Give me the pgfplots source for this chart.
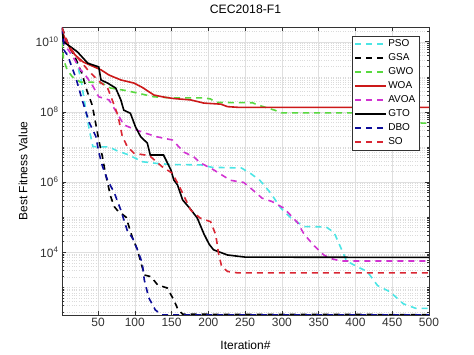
\documentclass[border=0pt]{standalone}
\usepackage{pgfplots}
\pgfplotsset{compat=1.18}
\usepackage{fontspec}
\setmainfont{Liberation Sans}
\definecolor{psoc}{rgb}{0.30,0.90,0.90}
\definecolor{gwoc}{rgb}{0.35,0.85,0.25}
\definecolor{woac}{rgb}{0.80,0.10,0.10}
\definecolor{avoac}{rgb}{0.82,0.20,0.82}
\definecolor{dboc}{rgb}{0.05,0.05,0.60}
\definecolor{soc}{rgb}{0.85,0.15,0.20}
\begin{document}
\begin{tikzpicture}
\begin{axis}[
  scale only axis, width=367pt, height=288pt,
  xmin=1, xmax=500, ymode=log, ymin=162, ymax=2.63e10,
  xtick={50,100,...,500},
  ytick={1e4,1e6,1e8,1e10},
  yticklabels={10\textsuperscript{4},10\textsuperscript{6},10\textsuperscript{8},10\textsuperscript{10}},
  minor ytick={2e2,3e2,4e2,5e2,6e2,7e2,8e2,9e2,1e3,2e3,3e3,4e3,5e3,6e3,7e3,8e3,9e3,
    2e4,3e4,4e4,5e4,6e4,7e4,8e4,9e4,1e5,2e5,3e5,4e5,5e5,6e5,7e5,8e5,9e5,
    2e6,3e6,4e6,5e6,6e6,7e6,8e6,9e6,1e7,2e7,3e7,4e7,5e7,6e7,7e7,8e7,9e7,
    2e8,3e8,4e8,5e8,6e8,7e8,8e8,9e8,1e9,2e9,3e9,4e9,5e9,6e9,7e9,8e9,9e9,2e10},
  /pgf/number format/assume math mode=true,
  tick label style={font=\fontsize{12}{14}\selectfont, text=black!80},
  xmajorgrids, ymajorgrids, yminorgrids,
  major grid style={gray!25, line width=0.4pt},
  minor grid style={gray!28, dotted, line width=0.4pt},
  tick style={black!80, line width=0.5pt},
  major tick length=4pt, minor tick length=2pt,
  axis line style={black!80, line width=0.5pt},
  title={CEC2018-F1},
  title style={at={(axis description cs:0.5,1.042)}, anchor=center, font=\fontsize{12.2}{14}\selectfont},
  xlabel={Iteration\#},
  xlabel style={at={(axis description cs:0.5,-0.104)}, anchor=center, font=\fontsize{12}{14}\selectfont},
  ylabel={Best Fitness Value},
  ylabel style={at={(axis description cs:-0.106,0.5)}, anchor=center, font=\fontsize{12}{14}\selectfont},
  legend cell align=left,
  legend style={at={(axis description cs:0.973,0.969)}, anchor=north east,
    draw=black!80, line width=0.5pt, fill=white, font=\fontsize{10}{11}\selectfont,
    row sep=0pt, inner xsep=2pt, inner ysep=1pt,
    nodes={inner ysep=2.4pt, inner xsep=1.5pt, text height=7.3pt, text depth=1.9pt}},
  legend image code/.code={\draw[#1] (0pt,0pt) -- (31pt,0pt);},
  every axis plot/.append style={line width=1.6pt},
]
\addplot[psoc, dash pattern=on 6pt off 5pt] coordinates {
(1,2.51e10)(8,1e10)(15,5.01e9)(22,2.24e9)(27,7.94e8)(33,1.26e8)(38,3.16e7)(43,1.02e7)(65,1e7)(75,7.94e6)(92,5.89e6)(110,3.80e6)(130,3.39e6)(150,3.16e6)(190,3.09e6)(205,2.63e6)(245,2.51e6)(257,1.78e6)(270,1.12e6)(285,4.79e5)(298,1.86e5)(312,9.55e4)(330,5.37e4)(360,5.25e4)(371,3.63e4)(380,1.35e4)(388,5.62e3)(402,3.89e3)(416,2.82e3)(430,1.12e3)(447,741)(465,339)(482,251)(500,251)};
\addlegendentry{PSO}
\addplot[black, dash pattern=on 6pt off 5pt] coordinates {
(1,2.51e10)(10,7.94e9)(20,3.16e9)(28,1.26e9)(35,3.98e8)(42,1.58e8)(47,4.47e7)(51,1.58e7)(56,5.25e6)(60,1.78e6)(67,3.98e5)(72,2.0e5)(76,1.58e5)(88,1e5)(97,2.51e4)(103,1.26e4)(108,5.37e3)(113,2.24e3)(122,2.0e3)(131,1.17e3)(144,955)(153,437)(158,251)(165,170)(500,166)};
\addlegendentry{GSA}
\addplot[gwoc, dash pattern=on 6pt off 5pt] coordinates {
(1,1e10)(3,3.16e9)(8,1.58e9)(15,1e9)(26,7.08e8)(40,7.08e8)(55,6.61e8)(67,4.79e8)(90,3.98e8)(126,2.69e8)(150,2.51e8)(193,2.51e8)(203,2.34e8)(210,1.86e8)(260,1.82e8)(267,1.58e8)(290,1.12e8)(300,9.33e7)(470,9.33e7)(480,5.62e7)(490,4.79e7)(500,4.79e7)};
\addlegendentry{GWO}
\addplot[woac, solid] coordinates {
(1,2.0e10)(5,1.26e10)(13,5.75e9)(20,3.98e9)(30,2.63e9)(45,1.91e9)(54,1.58e9)(65,1.12e9)(81,8.13e8)(99,6.61e8)(110,5.01e8)(126,3.02e8)(140,2.63e8)(153,2.40e8)(176,2.19e8)(194,1.78e8)(217,1.66e8)(226,1.41e8)(240,1.35e8)(500,1.35e8)};
\addlegendentry{WOA}
\addplot[avoac, dash pattern=on 6pt off 5pt] coordinates {
(1,2.51e10)(5,7.94e9)(15,3.98e9)(26,1.58e9)(31,1.26e9)(42,5.89e8)(51,2.69e8)(65,2.19e8)(76,9.12e7)(85,4.27e7)(100,3.16e7)(115,2.45e7)(130,1.95e7)(151,1.58e7)(167,7.08e6)(180,5.25e6)(189,3.55e6)(207,2.24e6)(230,1.12e6)(248,9.77e5)(260,6.03e5)(273,3.47e5)(287,2.75e5)(303,1.78e5)(312,1.12e5)(321,7.08e4)(330,3.31e4)(343,1.58e4)(357,8.32e3)(366,6.61e3)(380,5.62e3)(500,5.62e3)};
\addlegendentry{AVOA}
\addplot[black, solid] coordinates {
(1,2.51e10)(3,1e10)(13,7.08e9)(22,5.13e9)(36,2.45e9)(51,1.91e9)(54,8.13e8)(63,6.61e8)(74,4.79e8)(81,2.19e8)(85,1.12e8)(94,9.12e7)(101,3.72e7)(108,1.95e7)(117,1.29e7)(121,5.89e6)(139,5.89e6)(149,2.24e6)(153,1.15e6)(158,8.32e5)(165,3.09e5)(176,1.66e5)(185,9.33e4)(194,3.31e4)(201,1.70e4)(207,1.17e4)(226,8.32e3)(250,7.24e3)(500,7.08e3)};
\addlegendentry{GTO}
\addplot[dboc, dash pattern=on 6pt off 5pt] coordinates {
(1,2.51e10)(4,5.62e9)(9,3.98e9)(14,2.0e9)(20,9.12e8)(29,2.0e8)(38,5.01e7)(47,2.0e7)(51,7.08e6)(56,2.82e6)(63,1.12e6)(72,5.01e5)(81,1.58e5)(90,3.98e4)(97,2.51e4)(103,1.26e4)(110,5.01e3)(113,1.58e3)(119,501)(128,224)(137,164)(500,162)};
\addlegendentry{DBO}
\addplot[soc, dash pattern=on 6pt off 5pt] coordinates {
(1,2.51e10)(10,7.94e9)(20,3.98e9)(36,1.58e9)(50,7.94e8)(63,4.79e8)(70,2.0e8)(77,7.94e7)(83,2.0e7)(90,1e7)(99,6.61e6)(120,5.62e6)(137,2.75e6)(151,1.78e6)(160,7.94e5)(176,1.58e5)(189,9.33e4)(203,7.41e4)(210,3.16e4)(214,8.91e3)(218,3.98e3)(226,2.82e3)(240,2.57e3)(500,2.57e3)};
\addlegendentry{SO}
\end{axis}
\pgfresetboundingbox
\path[use as bounding box] ([shift={(-62pt,-40pt)}]current axis.south west) rectangle ([shift={(45pt,27pt)}]current axis.north east);
\end{tikzpicture}
\end{document}
